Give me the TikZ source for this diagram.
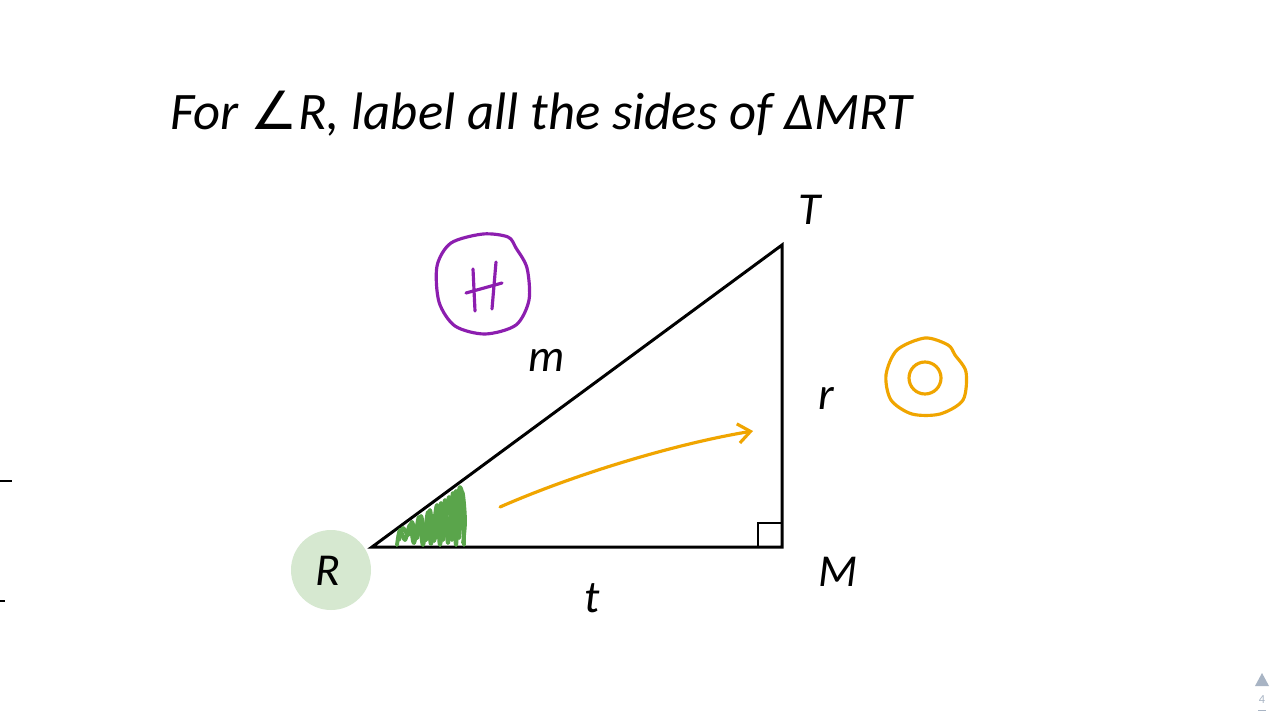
\documentclass[tikz,border=0pt]{standalone}
\usepackage{fontspec}
\setmainfont{Carlito}
\newfontfamily\symfont{DejaVu Sans}
\usetikzlibrary{arrows.meta}
\definecolor{hypcol}{RGB}{140,30,175}
\definecolor{oppcol}{RGB}{240,165,0}
\definecolor{anglecol}{RGB}{90,165,75}
\definecolor{vertexfill}{RGB}{214,232,208}
\definecolor{slidegrey}{RGB}{168,180,196}
\tikzset{
  vlabel/.style={font=\fontsize{26}{30}\selectfont\itshape},
  side/.style={line width=1.7pt,line join=miter},
  pen/.style={line width=1.8pt,line cap=round,line join=round},
}

\begin{document}
\begin{tikzpicture}[x=0.02cm,y=-0.02cm,
            >={Straight Barb[length=7pt,width=11pt]},
        ]
        \useasboundingbox (0,0) rectangle (1280,720);
        \fill[white] (0,0) rectangle (1280,720);
        % title
        \node[font=\fontsize{30}{36}\selectfont\itshape,anchor=base west,inner sep=0pt] (title) at (170,129)
            {For {\symfont\upshape ∠}R, label all the sides of ΔMRT};
        % triangle
        \coordinate (R) at (372,547);
        \coordinate (M) at (782,547);
        \coordinate (T) at (782,245);
        \fill[vertexfill] (331,570) circle (40);
        \draw[line width=1.2pt] ([shift={(-24,0)}]M) -- ++(0,-24) -- ++(24,0);
        \draw[side] (R) -- (M) -- (T) -- cycle;
        \node[vlabel] (Rlab) at (328,571) {R};
        \node[vlabel] (Mlab) at (838,572) {M};
        \node[vlabel] (Tlab) at (810,210) {T};
        \node[vlabel] (mlab) at (547,360) {m};
        \node[vlabel] (rlab) at (826,398) {r};
        \node[vlabel] (tlab) at (592,598) {t};
        % marked angle
        \draw[pen,anglecol,line width=2.2pt] plot[smooth,tension=0.6] coordinates {(397,545) (400,530) (405,540)
            (410,525) (414,543) (419,517) (423,545) (428,512) (431,544) (437,505) (440,545)
            (445,500) (448,543) (453,493) (456,545) (459,490) (463,500) (464,545)};
        \draw[pen,anglecol,line width=2.2pt] plot[smooth,tension=0.6] coordinates {(399,540) (403,528) (408,535)
            (412,522) (417,538) (421,516) (426,540) (430,510) (434,541) (441,503) (443,540)
            (449,497) (452,540) (456,491) (459,538) (462,492) (465,520) (463,543)};
        % hypotenuse
        \draw[pen,hypcol] plot[smooth cycle] coordinates {(483,234) (508,237) (516,248) (527,268)
            (529,300) (516,325) (485,334) (455,326) (439,302) (437,266) (451,243)};
        \draw[pen,hypcol] (473,269) -- (475,311) (496,262) -- (492,309) (466,293) -- (502,283);
        % opposite
        \draw[pen,oppcol] plot[smooth cycle] coordinates {(925,338) (948,345) (955,355) (966,372)
            (963,400) (940,414) (912,414) (891,400) (886,375) (897,350)};
        \draw[pen,oppcol] (925,378) ellipse (16 and 16);
        \draw[pen,oppcol,->] (500,507) .. controls (580,472) and (680,443) .. (753,431);
        % slide edge marks
        \draw[line width=1.2pt] (0,481) -- (12,481) (0,601) -- (5,601);
        \fill[slidegrey] (1255,686) -- (1269,686) -- (1262,673) -- cycle;
        \node[text=slidegrey,font=\fontsize{7}{8}\selectfont] (page) at (1262,700) {4};
        \draw[slidegrey,line width=0.5pt] (1258,710) -- (1266,710);
    \end{tikzpicture}
\end{document}
